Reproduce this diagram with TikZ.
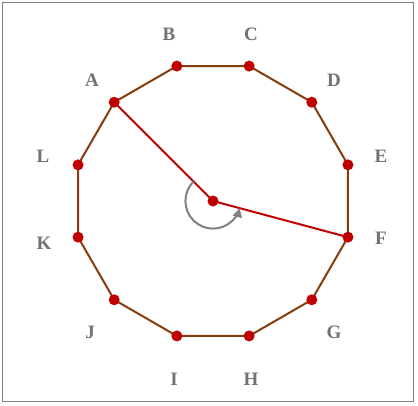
\documentclass[tikz,border=0pt]{standalone}
\usepackage{fontspec}
\setmainfont{Liberation Serif}
\usetikzlibrary{arrows.meta,calc}
\definecolor{edgebrown}{HTML}{843C0C}
\definecolor{ptred}{HTML}{C00000}
\definecolor{lblgray}{HTML}{767171}
\definecolor{arcgray}{HTML}{808080}
\tikzset{
  edge/.style={edgebrown, line width=2pt},
  radius line/.style={ptred, line width=2pt},
  vdot/.style={circle, fill=ptred, inner sep=0pt, minimum size=11pt},
  lbl/.style={text=lblgray, font=\fontsize{19}{19}\selectfont\bfseries, inner sep=0pt},
}
\begin{document}
\begin{tikzpicture}[x=1pt,y=-1pt]
\useasboundingbox (0,0) rectangle (418,405);
\draw[arcgray, line width=1pt] (2.5,2.5) rectangle (413,401.5);
\coordinate (O) at (213,201);
% vertices
\foreach \n/\a in {A/135,B/105,C/75,D/45,E/15,F/-15,G/-45,H/-75,I/-105,J/-135,K/-165,L/165}{
  \coordinate (\n) at ($(O)+({139.7*cos(\a)},{-139.7*sin(\a)})$);
}
\draw[edge] (A)--(B)--(C)--(D)--(E)--(F)--(G)--(H)--(I)--(J)--(K)--(L)--cycle;
\draw[radius line] (A)--(O)--(F);
\draw[arcgray, line width=2pt, -{Triangle[length=9pt,width=9pt]}]
  ($(O)+(-19.5,-19.5)$) arc[start angle=-135, end angle=-345, radius=27.6];
\foreach \n in {A,B,C,D,E,F,G,H,I,J,K,L}{ \node[vdot] (d\n) at (\n) {}; }
\node[vdot] (dO) at (O) {};
\node[lbl] (lA) at (92,80) {A};
\node[lbl] (lB) at (169,34) {B};
\node[lbl] (lC) at (251,34) {C};
\node[lbl] (lD) at (334,80) {D};
\node[lbl] (lE) at (381,156) {E};
\node[lbl] (lF) at (381,238) {F};
\node[lbl] (lG) at (334,332) {G};
\node[lbl] (lH) at (251,379) {H};
\node[lbl] (lI) at (174,379) {I};
\node[lbl] (lJ) at (90,332) {J};
\node[lbl] (lK) at (44,243) {K};
\node[lbl] (lL) at (43,156) {L};
\end{tikzpicture}
\end{document}
